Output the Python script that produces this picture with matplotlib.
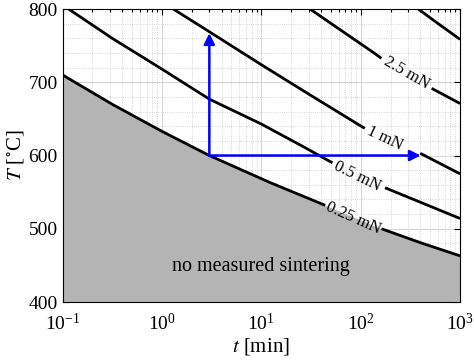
import numpy as np
import matplotlib
matplotlib.use("Agg")
import matplotlib.pyplot as plt
from matplotlib.ticker import LogLocator, MultipleLocator, NullFormatter

plt.rcParams['font.family'] = ['Liberation Serif', 'DejaVu Serif']
plt.rcParams['mathtext.fontset'] = 'stix'

# 0.25 mN line = limit of the grey region
t_025 = [0.1, 0.316, 1.0, 3.0, 12.3, 44, 162, 400, 1000]
T_025 = [710, 670, 633, 600, 563, 532, 500, 481, 463]
# split where the label sits
t_025_a = [0.1, 0.316, 1.0, 3.0, 12.3, 44]
T_025_a = [710, 670, 633, 600, 563, 532]
t_025_b = [162, 400, 1000]
T_025_b = [500, 481, 463]

t_05_a = [0.115, 0.316, 1.0, 3.0, 10, 25.7, 52]
T_05_a = [800, 760, 718, 677, 643, 613, 590]
t_05_b = [176, 1000]
T_05_b = [556, 514]

t_1_a = [1.3, 3.0, 10, 31.6, 110]
T_1_a = [800, 769, 724, 682, 637]
t_1_b = [398, 1000]
T_1_b = [603, 575]

t_25_a = [30.9, 138, 162]
T_25_a = [800, 739.5, 732.6]
t_25_b = [518, 1000]
T_25_b = [691.7, 671]

t_top = [380, 603, 1000]
T_top = [800, 780, 758.6]

labels = ["0.25 mN", "0.5 mN", "1 mN", "2.5 mN"]
label_t = [84, 92, 175, 292]
label_T = [515, 572, 624, 712]
label_rot = [-24, -26, -25, -30]

# arrows
arrow_t0, arrow_T0 = 3.0, 600
arrow_Tend = 767
arrow_tend = 402

fig = plt.figure(figsize=(4.74, 3.61), dpi=100)
ax = fig.add_axes([0.132, 0.1634, 0.8385, 0.8116])

ax.set_xscale('log')
ax.set_xlim(0.1, 1000)
ax.set_ylim(400, 800)

ax.fill_between(t_025, T_025, 400, color='#b4b4b4', zorder=2, lw=0)

lw = 2.0
for tt, TT in [(t_025_a, T_025_a), (t_025_b, T_025_b), (t_05_a, T_05_a), (t_05_b, T_05_b),
               (t_1_a, T_1_a), (t_1_b, T_1_b), (t_25_a, T_25_a), (t_25_b, T_25_b),
               (t_top, T_top)]:
    ax.plot(tt, TT, color='k', lw=lw, zorder=3, solid_capstyle='butt', solid_joinstyle='round')

for lab, x, y, r in zip(labels, label_t, label_T, label_rot):
    ax.text(x, y, lab, rotation=r, ha='center', va='center', fontsize=12, zorder=4,
            rotation_mode='anchor')

ap = dict(arrowstyle='-|>', color='#0000ff', lw=1.8, mutation_scale=16, shrinkA=0, shrinkB=0)
ax.annotate('', xy=(arrow_t0, arrow_Tend), xytext=(arrow_t0, arrow_T0), arrowprops=ap, zorder=5)
ax.annotate('', xy=(arrow_tend, arrow_T0), xytext=(arrow_t0, arrow_T0), arrowprops=ap, zorder=5)

ax.text(10, 448, "no measured sintering", ha='center', va='center', fontsize=14.5, zorder=4)

ax.xaxis.set_major_locator(LogLocator(base=10, numticks=10))
ax.xaxis.set_minor_locator(LogLocator(base=10, subs=np.arange(2, 10), numticks=20))
ax.xaxis.set_minor_formatter(NullFormatter())
ax.yaxis.set_major_locator(MultipleLocator(100))
ax.yaxis.set_minor_locator(MultipleLocator(20))

ax.grid(True, which='major', color='#d4d4d4', lw=0.7, zorder=0)
ax.grid(True, which='minor', color='#c8c8c8', lw=0.6, ls=':', zorder=0)
ax.set_axisbelow(True)

ax.tick_params(which='both', direction='in', top=True, right=True, labelsize=14, width=0.8)
ax.tick_params(which='major', length=4)
ax.tick_params(axis='x', which='minor', length=2.5)
ax.tick_params(axis='y', which='minor', length=0)
ax.tick_params(axis='x', pad=8)
for s in ax.spines.values():
    s.set_linewidth(0.8)

ax.set_xlabel(r'$t$ [min]', fontsize=15, labelpad=1)
ax.set_ylabel(r'$T$ [$^{\circ}$C]', fontsize=15, labelpad=2)

fig.savefig('out.png', dpi=100)
